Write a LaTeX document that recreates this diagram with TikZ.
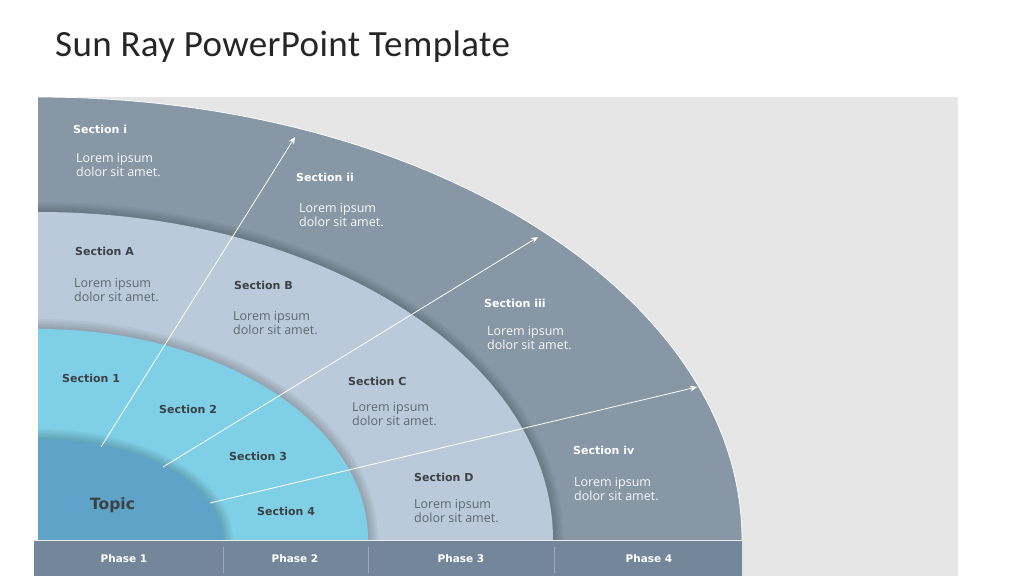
\documentclass[tikz,border=0pt]{standalone}
\usepackage{fontspec}
\setmainfont{DejaVu Sans}
\newfontfamily\titlefont[LetterSpace=1]{Carlito}
\newfontfamily\loremfont{Open Sans}
\usetikzlibrary{arrows.meta}

\definecolor{panelgray}{HTML}{E6E6E6}
\definecolor{outerband}{HTML}{8797A6}
\definecolor{middleband}{HTML}{BBCADA}
\definecolor{innerband}{HTML}{7FD0E7}
\definecolor{topiccore}{HTML}{5FA3C8}
\definecolor{phasebar}{HTML}{73869A}
\definecolor{phaseline}{HTML}{9CAABA}
\definecolor{darktext}{HTML}{3C4146}
\definecolor{graytext}{HTML}{5E6770}
\definecolor{titleink}{HTML}{262626}

\newcommand\quarterband[3]{% colour, x radius, y radius
  \fill[#1] (O) -- ++(0,#3) arc[start angle=90,end angle=0,x radius=#2,y radius=#3] -- cycle;}
\newcommand\bandshadow[2]{% x radius, y radius
  \foreach \k in {1,...,5}{
    \pgfmathsetmacro\rx{#1+2*\k}\pgfmathsetmacro\ry{#2+2*\k}
    \fill[black,opacity=0.04] (O) -- ++(0,\ry) arc[start angle=90,end angle=0,x radius=\rx,y radius=\ry] -- cycle;}}

\tikzset{
  titletext/.style={font=\titlefont\fontsize{37}{40}\selectfont, text=titleink, anchor=base west, inner sep=0pt},
  head/.style={font=\fontsize{11}{13}\selectfont\bfseries, anchor=base west, inner sep=0pt},
  lorem/.style={font=\loremfont\fontsize{12.5}{13.8}\selectfont, align=left, anchor=north west, inner sep=0pt},
  ray/.style={white, line width=0.8pt, -{Stealth[length=7pt,width=6pt]}},
  phase/.style={font=\fontsize{10.5}{12}\selectfont\bfseries, text=white, inner sep=0pt},
}

\begin{document}
\begin{tikzpicture}[x=1pt,y=1pt]
  \useasboundingbox (0,0) rectangle (1024,576);
  \fill[white] (0,0) rectangle (1024,576);
  \node[titletext] (title) at (55,519) {Sun Ray PowerPoint Template};
  \fill[panelgray] (38,0) rectangle (958,479);

  % quarter bands, outside in
  \coordinate (O) at (38,36);
  \quarterband{outerband}{704}{443}
  \draw[white,line width=0.8pt] (38,479) arc[start angle=90,end angle=0,x radius=704,y radius=443];
  \bandshadow{515}{328}
  \quarterband{middleband}{515}{328}
  \bandshadow{330}{211}
  \quarterband{innerband}{330}{211}
  \bandshadow{185}{101}
  \quarterband{topiccore}{185}{101}

  % phase bar
  \fill[phasebar] (34,0) rectangle (742,36);
  \draw[white!85!phasebar,line width=0.8pt] (34,36) -- (742,36);
  \foreach \xd in {223,368,554}
    \draw[phaseline,line width=0.6pt] (\xd,3) -- (\xd,29);
  \node[phase] (p1) at (124,17) {Phase 1};
  \node[phase] (p2) at (295,17) {Phase 2};
  \node[phase] (p3) at (461,17) {Phase 3};
  \node[phase] (p4) at (649,17) {Phase 4};

  % rays
  \coordinate (r1s) at (101,129);
  \coordinate (r1e) at (295,439);
  \coordinate (r2s) at (163,109);
  \coordinate (r2e) at (538,339);
  \coordinate (r3s) at (210,73);
  \coordinate (r3e) at (697,189);
  \draw[ray] (r1s) -- (r1e);
  \draw[ray] (r2s) -- (r2e);
  \draw[ray] (r3s) -- (r3e);

  % outer band texts
  \node[head,text=white] (si) at (73,442) {Section i};
  \node[lorem,text=white!94!outerband] (li) at (76,423) {Lorem ipsum\\dolor sit amet.};
  \node[head,text=white] (sii) at (296,394) {Section ii};
  \node[lorem,text=white!94!outerband] (lii) at (299,373) {Lorem ipsum\\dolor sit amet.};
  \node[head,text=white] (siii) at (484,269) {Section iii};
  \node[lorem,text=white!94!outerband] (liii) at (487,250) {Lorem ipsum\\dolor sit amet.};
  \node[head,text=white] (siv) at (573,122) {Section iv};
  \node[lorem,text=white!94!outerband] (liv) at (574,99) {Lorem ipsum\\dolor sit amet.};

  % middle band texts
  \node[head,text=darktext] (sA) at (75,320) {Section A};
  \node[lorem,text=graytext] (lA) at (74,298) {Lorem ipsum\\dolor sit amet.};
  \node[head,text=darktext] (sB) at (234,286) {Section B};
  \node[lorem,text=graytext] (lB) at (233,265) {Lorem ipsum\\dolor sit amet.};
  \node[head,text=darktext] (sC) at (348,191) {Section C};
  \node[lorem,text=graytext] (lC) at (352,174) {Lorem ipsum\\dolor sit amet.};
  \node[head,text=darktext] (sD) at (414,95) {Section D};
  \node[lorem,text=graytext] (lD) at (414,77) {Lorem ipsum\\dolor sit amet.};

  % inner band and topic
  \node[head,text=darktext] (s1) at (62,194) {Section 1};
  \node[head,text=darktext] (s2) at (159,163) {Section 2};
  \node[head,text=darktext] (s3) at (229,116) {Section 3};
  \node[head,text=darktext] (s4) at (257,61) {Section 4};
  \node[head,text=darktext,font=\fontsize{15.5}{18}\selectfont\bfseries] (topic) at (90,67) {Topic};
\end{tikzpicture}
\end{document}
